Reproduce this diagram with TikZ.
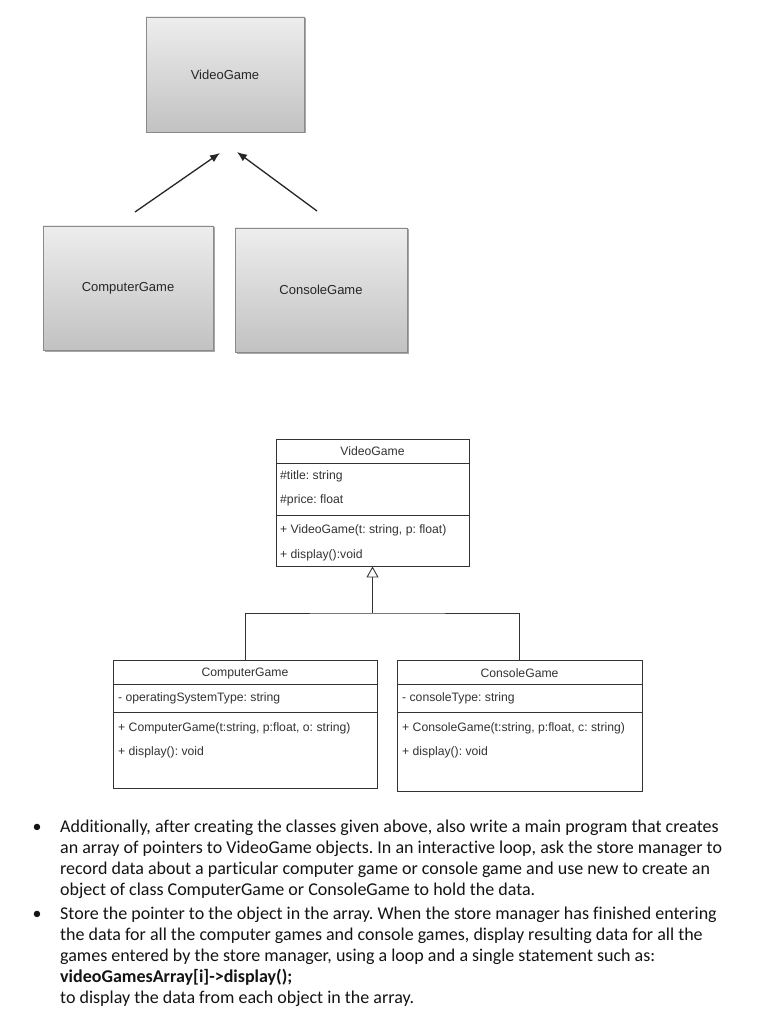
\documentclass[tikz,border=0pt]{standalone}
\usepackage{fontspec}
\setmainfont[Ligatures=NoCommon]{Carlito}
\newfontfamily\arialf{Liberation Sans}
\usetikzlibrary{arrows.meta,shadows}
\definecolor{boxline}{HTML}{8A8A8A}
\definecolor{umlline}{HTML}{333333}
\definecolor{umltext}{HTML}{333333}
\frenchspacing
\begin{document}
\begin{tikzpicture}[x=1pt,y=-1pt,
  gbox/.style={draw=boxline,line width=0.9pt,top color=gray!14,bottom color=gray!48,
    drop shadow={shadow xshift=1.5pt,shadow yshift=-1.5pt,fill=black,opacity=0.35},
    inner sep=0pt,font=\arialf\fontsize{13}{15}\selectfont,text=black!85},
  inh/.style={draw=black!85,line width=1.3pt,-{Latex[length=10pt,width=8pt]}},
  umlbox/.style={draw=umlline,line width=0.9pt,fill=white,inner sep=0pt},
  umlsep/.style={draw=umlline,line width=0.9pt},
  umltxt/.style={font=\arialf\fontsize{12.2}{14}\selectfont,text=umltext,inner sep=0pt},
  para/.style={font=\fontsize{18}{21}\selectfont,anchor=base west,inner sep=0pt,text=black!92},
  bul/.style={font=\fontsize{18}{21}\selectfont,anchor=base,inner sep=0pt,text=black!92}
]
\useasboundingbox (0,0) rectangle (761,1024);
\fill[white] (0,0) rectangle (761,1024);

% ---- top simple diagram ----
\node[gbox,minimum width=158pt,minimum height=115pt] (vgt) at (225,74.5) {VideoGame};
\node[gbox,minimum width=170pt,minimum height=124pt] (cgt) at (128,288) {ComputerGame};
\node[gbox,minimum width=172pt,minimum height=124pt] (cogt) at (321,290) {ConsoleGame};
\coordinate (a1s) at (135,212);
\coordinate (a1e) at (220,153);
\coordinate (a2s) at (317,211);
\coordinate (a2e) at (237,152);
\draw[inh] (a1s) -- (a1e);
\draw[inh] (a2s) -- (a2e);

% ---- UML diagram ----
\node[umlbox,minimum width=193pt,minimum height=127pt] (vgu) at (372.5,502.5) {};
\draw[umlsep] (276,463) -- (469,463);
\draw[umlsep] (276,515) -- (469,515);
\node[umltxt] (vgh) at (372.5,451) {VideoGame};
\node[umltxt,anchor=west] (vga1) at (280,476) {\#title: string};
\node[umltxt,anchor=west] (vga2) at (280,500) {\#price: float};
\node[umltxt,anchor=west] (vgm1) at (280,530) {+ VideoGame(t: string, p: float)};
\node[umltxt,anchor=west] (vgm2) at (280,555) {+ display():void};

\node[umlbox,minimum width=264pt,minimum height=128pt] (cgu) at (245,724) {};
\draw[umlsep] (113,684) -- (377,684);
\draw[umlsep] (113,712) -- (377,712);
\node[umltxt] (cgh) at (245,673) {ComputerGame};
\node[umltxt,anchor=west] (cga1) at (118,698) {- operatingSystemType: string};
\node[umltxt,anchor=west] (cgm1) at (118,728) {+ ComputerGame(t:string, p:float, o: string)};
\node[umltxt,anchor=west] (cgm2) at (118,752) {+ display(): void};

\node[umlbox,minimum width=245pt,minimum height=131pt] (cou) at (519.5,725.5) {};
\draw[umlsep] (397,684) -- (642,684);
\draw[umlsep] (397,712) -- (642,712);
\node[umltxt] (coh) at (519.5,673) {ConsoleGame};
\node[umltxt,anchor=west] (coa1) at (402,698) {- consoleType: string};
\node[umltxt,anchor=west] (com1) at (402,728) {+ ConsoleGame(t:string, p:float, c: string)};
\node[umltxt,anchor=west] (com2) at (402,752) {+ display(): void};

\coordinate (j) at (372.5,613);
\draw[umlsep] (cgu.north) |- (j) -| (cou.north);
\draw[umlsep,-{Triangle[open,length=11pt,width=12pt]}] (j) -- (vgu.south);

% ---- text ----
\node[bul] (b1) at (37,832) {•};
\node[bul] (b2) at (37,919) {•};
\node[para] (l1) at (60,832) {Additionally, after creating the classes given above, also write a main program that creates};
\node[para] (l2) at (60,853) {an array of pointers to VideoGame objects. In an interactive loop, ask the store manager to};
\node[para] (l3) at (60,874) {record data about a particular computer game or console game and use new to create an};
\node[para] (l4) at (60,895) {object of class ComputerGame or ConsoleGame to hold the data.};
\node[para] (l5) at (60,919) {Store the pointer to the object in the array. When the store manager has finished entering};
\node[para] (l6) at (60,940) {the data for all the computer games and console games, display resulting data for all the};
\node[para] (l7) at (60,961) {games entered by the store manager, using a loop and a single statement such as:};
\node[para] (l8) at (60,982) {\bfseries videoGamesArray[i]->display();};
\node[para] (l9) at (60,1003) {to display the data from each object in the array.};
\end{tikzpicture}
\end{document}
